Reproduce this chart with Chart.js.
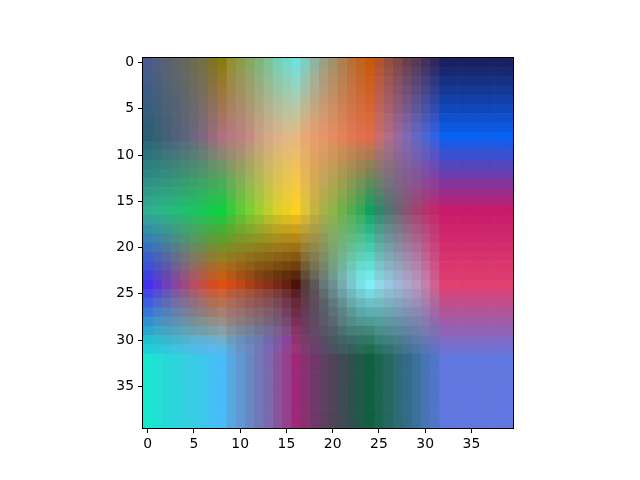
<!DOCTYPE html>
<html>
<head>
<meta charset="utf-8">
<script src="https://cdn.jsdelivr.net/npm/chart.js@4.4.1/dist/chart.umd.min.js"></script>
<style>
  html, body { margin: 0; padding: 0; background: #fff; }
  canvas { display: block; }
</style>
</head>
<body>
<canvas id="imageChart" width="640" height="480"></canvas>
<script>
// row labels of the image (top to bottom) and the ticks that are shown
const rowLabels = ['0','1','2','3','4','5','6','7','8','9','10','11','12','13','14','15','16','17','18','19',
                   '20','21','22','23','24','25','26','27','28','29','30','31','32','33','34','35','36','37','38','39'];
const xTicks = [0, 5, 10, 15, 20, 25, 30, 35];
const yTicks = [0, 5, 10, 15, 20, 25, 30, 35];

// pixel colours, one string per image row, "r,g,b" per column (40 columns)
const bottomBand = "24,232,208 32,224,212 40,216,216 44,212,220 52,208,224 56,204,228 60,200,236 68,192,244 72,188,248 88,168,224 96,152,212 104,136,196 112,120,184 124,104,172 136,84,156 148,64,140 160,40,120 136,48,112 112,56,104 96,64,96 80,68,88 64,74,84 48,80,80 32,88,74 16,96,64 26,100,80 36,104,96 44,108,116 52,108,136 60,112,156 72,116,180 80,118,200 96,120,224 96,120,224 96,120,224 96,120,224 96,120,224 96,120,224 96,120,224 96,120,224";
const pixelRows = [
  "74,90,140 82,94,128 88,98,116 94,102,104 100,105,92 108,108,80 116,112,66 128,116,40 140,124,16 146,144,48 142,156,74 136,168,98 130,180,122 124,194,148 118,208,180 114,216,200 112,224,220 128,204,192 144,180,160 154,160,128 164,144,104 174,128,80 184,112,56 192,100,32 200,90,8 176,84,48 152,78,64 128,72,72 106,64,80 86,58,88 66,50,92 46,42,94 26,32,96 26,32,96 26,32,96 26,32,96 26,32,96 26,32,96 26,32,96 26,32,96",
  "70,91,137 78,94,126 86,98,116 92,101,106 99,104,96 108,107,86 118,111,74 131,115,51 145,123,30 151,141,58 148,153,81 144,165,102 139,177,123 135,191,147 131,204,175 128,212,192 127,219,209 141,200,183 155,177,154 164,159,125 172,144,103 181,128,81 189,113,60 196,102,38 203,92,17 179,87,56 155,82,73 131,76,83 109,69,93 88,64,102 67,57,107 47,49,111 24,40,114 24,40,114 24,40,114 24,40,114 24,40,114 24,40,114 24,40,114 24,40,114",
  "66,92,134 75,95,125 83,98,117 91,101,109 98,104,100 108,107,92 119,110,81 134,114,62 149,121,44 156,138,68 154,149,88 151,161,106 149,174,125 146,188,145 144,200,169 142,208,184 141,214,197 154,195,173 166,174,147 174,157,123 180,143,102 188,129,82 194,114,63 200,103,44 206,95,25 182,90,64 158,86,82 134,80,94 112,74,105 90,70,115 69,63,122 48,56,128 22,48,132 22,48,132 22,48,132 22,48,132 22,48,132 22,48,132 22,48,132 22,48,132",
  "62,92,131 71,95,124 81,97,118 89,100,111 97,103,104 108,106,97 121,109,89 137,113,73 154,120,58 160,135,78 159,146,94 159,158,109 158,171,126 157,184,144 156,196,164 155,204,176 156,209,186 167,191,164 177,171,141 183,156,120 188,143,101 194,129,83 199,115,67 204,105,50 209,97,34 185,93,72 161,89,91 137,84,105 114,79,118 91,75,129 70,70,137 48,63,144 20,56,150 20,56,150 20,56,150 20,56,150 20,56,150 20,56,150 20,56,150 20,56,150",
  "58,93,128 68,95,122 78,97,118 87,99,113 96,103,108 108,105,103 122,108,96 140,112,84 158,118,72 165,132,88 165,142,101 166,154,113 167,168,127 168,181,142 169,192,158 169,200,168 170,204,174 180,186,154 188,168,134 193,154,117 196,142,100 201,129,84 204,116,70 208,106,56 212,99,42 188,96,80 164,93,100 140,88,116 117,84,130 93,81,142 71,76,152 49,70,161 18,64,168 18,64,168 18,64,168 18,64,168 18,64,168 18,64,168 18,64,168 18,64,168",
  "54,94,125 64,95,120 76,97,118 85,98,115 95,102,112 108,104,109 124,107,104 143,111,95 163,117,86 170,129,98 171,139,108 174,151,117 176,165,128 179,178,141 182,188,153 183,196,160 185,199,163 193,182,145 199,165,128 203,153,114 204,142,99 208,129,85 209,117,74 212,108,62 215,101,51 191,99,88 167,97,109 143,92,127 120,89,143 95,87,156 72,83,167 50,77,178 16,72,186 16,72,186 16,72,186 16,72,186 16,72,186 16,72,186 16,72,186 16,72,186",
  "50,95,122 61,96,119 73,97,119 84,98,118 94,101,116 108,104,115 125,106,111 146,110,106 167,115,100 175,126,108 177,135,115 181,147,121 186,162,130 190,175,139 195,184,147 197,192,152 199,194,151 206,177,135 210,162,121 213,151,112 212,141,98 215,130,86 214,118,77 216,109,68 218,104,59 194,102,96 170,101,118 146,96,138 123,94,155 97,93,169 74,89,182 51,84,195 14,80,204 14,80,204 14,80,204 14,80,204 14,80,204 14,80,204 14,80,204 14,80,204",
  "46,95,119 57,96,117 71,96,120 82,97,120 93,101,120 108,103,120 127,105,119 149,109,117 172,114,114 179,123,118 182,132,121 189,144,124 195,159,131 201,171,138 207,180,142 210,188,144 214,189,140 219,173,126 221,159,115 222,150,109 220,141,97 221,130,87 219,119,81 220,111,74 221,106,68 197,105,104 173,104,127 149,100,149 125,99,168 98,98,183 75,96,197 51,91,211 12,88,222 12,88,222 12,88,222 12,88,222 12,88,222 12,88,222 12,88,222 12,88,222",
  "42,96,116 54,96,116 68,96,120 80,96,122 92,100,124 108,102,126 128,104,126 152,108,128 176,112,128 184,120,128 188,128,128 196,140,128 204,156,132 212,168,136 220,176,136 224,184,136 228,184,128 232,168,116 232,156,108 232,148,106 228,140,96 228,130,88 224,120,84 224,112,80 224,108,76 200,108,112 176,108,136 152,104,160 128,104,180 100,104,196 76,102,212 52,98,228 10,96,240 10,96,240 10,96,240 10,96,240 10,96,240 10,96,240 10,96,240 10,96,240",
  "43,106,120 53,107,119 65,107,121 75,108,122 85,112,122 98,114,122 115,116,121 136,120,121 156,124,120 168,131,120 176,138,119 187,149,119 198,163,122 209,173,125 220,180,124 226,187,124 231,187,116 231,172,109 228,159,103 224,152,102 217,145,93 214,136,86 207,127,84 203,119,81 198,115,79 181,112,111 164,109,133 147,104,154 129,102,172 108,100,185 89,96,199 70,91,213 34,87,223 34,87,223 34,87,223 34,87,223 34,87,223 34,87,223 34,87,223 34,87,223",
  "44,116,123 52,117,122 61,118,123 69,119,122 77,123,120 88,126,119 102,128,116 119,132,115 136,136,112 152,141,111 164,147,110 178,157,109 192,169,111 206,178,113 220,184,112 228,190,111 235,190,104 230,175,101 223,162,97 216,155,98 206,150,90 199,142,84 189,133,83 181,126,82 172,121,81 162,115,110 152,110,130 141,103,148 130,99,163 115,95,175 102,90,186 87,84,198 58,79,206 58,79,206 58,79,206 58,79,206 58,79,206 58,79,206 58,79,206 58,79,206",
  "44,126,127 50,128,124 58,129,124 64,131,121 70,135,118 78,137,115 89,140,110 103,144,108 116,148,104 136,152,103 152,157,101 169,166,100 186,176,101 203,183,102 220,188,100 229,193,99 238,193,92 229,179,94 219,165,92 208,159,93 195,155,87 185,147,82 172,140,83 160,133,83 146,128,84 143,119,109 140,111,127 136,103,142 131,97,155 123,91,164 115,83,173 105,76,182 81,70,190 81,70,190 81,70,190 81,70,190 81,70,190 81,70,190 81,70,190 81,70,190",
  "45,136,130 49,138,127 54,140,125 58,142,121 62,146,116 68,149,111 76,152,105 86,156,101 96,160,96 120,162,94 140,166,92 160,174,90 180,182,90 200,188,90 220,192,88 231,196,86 242,196,80 228,182,86 214,168,86 200,162,89 184,160,84 170,153,80 154,146,82 138,140,84 120,134,86 124,122,108 128,112,124 130,102,136 132,94,146 130,86,153 128,77,160 122,69,167 105,61,173 105,61,173 105,61,173 105,61,173 105,61,173 105,61,173 105,61,173 105,61,173",
  "46,146,134 48,149,130 51,151,126 53,154,121 55,158,114 58,161,107 63,164,100 70,168,94 76,172,88 104,173,86 128,176,83 151,183,81 174,189,80 197,193,79 220,196,76 233,199,74 245,199,68 227,186,79 210,171,81 192,166,85 173,165,81 156,159,78 137,153,82 117,147,85 94,141,89 105,126,107 116,113,121 125,102,130 133,92,138 138,82,142 141,71,147 140,62,152 129,52,156 129,52,156 129,52,156 129,52,156 129,52,156 129,52,156 129,52,156 129,52,156",
  "47,156,137 47,159,133 47,162,128 47,165,121 47,169,112 48,173,104 50,176,95 53,180,88 56,184,80 88,183,77 116,185,74 142,191,71 168,195,69 194,198,67 220,200,64 235,202,61 248,202,56 226,189,71 205,174,75 184,169,81 162,170,78 141,165,76 119,159,81 95,154,86 68,147,91 86,129,106 104,114,118 119,101,124 134,89,129 145,77,132 154,65,134 157,55,137 153,44,139 153,44,139 153,44,139 153,44,139 153,44,139 153,44,139 153,44,139 153,44,139",
  "47,166,141 45,170,135 44,173,129 42,177,120 40,181,110 38,184,100 37,188,89 37,192,81 36,196,72 72,194,69 104,195,65 133,200,62 162,202,59 191,203,56 220,204,52 236,205,49 252,205,44 225,193,64 201,177,70 176,173,76 151,175,75 127,170,74 102,166,81 74,161,87 42,154,94 67,133,105 92,115,115 114,101,118 135,87,121 153,73,121 167,58,121 175,47,121 176,35,123 176,35,123 176,35,123 176,35,123 176,35,123 176,35,123 176,35,123 176,35,123",
  "48,176,144 44,180,138 40,184,130 36,188,120 32,192,108 28,196,96 24,200,84 20,204,74 16,208,64 56,204,60 92,204,56 124,208,52 156,208,48 188,208,44 220,208,40 238,208,36 255,208,32 224,196,56 196,180,64 168,176,72 140,180,72 112,176,72 84,172,80 52,168,88 16,160,96 48,136,104 80,116,112 108,100,112 136,84,112 160,68,110 180,52,108 192,40,106 200,26,106 200,26,106 200,26,106 200,26,106 200,26,106 200,26,106 200,26,106 200,26,106",
  "50,160,156 50,164,147 49,168,137 49,173,125 48,177,111 48,181,96 46,185,82 45,188,69 42,192,58 74,188,55 103,187,51 128,189,48 153,188,44 178,187,40 204,186,36 218,185,33 231,184,29 206,179,56 183,169,68 160,169,78 136,177,82 113,177,86 89,177,97 61,176,107 30,171,116 60,146,120 89,127,126 115,111,125 141,95,124 163,79,120 182,62,116 194,47,111 203,31,107 203,31,107 203,31,107 203,31,107 203,31,107 203,31,107 203,31,107 203,31,107",
  "52,144,168 55,148,157 58,152,144 61,157,129 64,162,113 67,166,96 68,169,79 69,172,64 68,176,52 92,171,49 113,169,46 131,170,43 149,168,39 168,166,36 187,164,33 197,162,29 207,160,26 188,162,56 170,158,71 152,162,84 132,173,92 113,177,100 93,181,114 70,184,126 44,181,135 72,156,136 98,137,140 121,121,138 145,105,135 166,89,131 184,71,124 196,54,116 206,36,108 206,36,108 206,36,108 206,36,108 206,36,108 206,36,108 206,36,108 206,36,108",
  "54,128,180 61,132,166 67,136,150 74,142,134 80,147,116 87,151,96 90,154,77 94,156,60 94,160,46 110,155,44 124,152,41 135,151,39 146,148,35 158,145,32 171,142,29 177,139,26 183,136,23 170,145,56 157,147,75 144,155,90 128,170,102 114,178,114 98,186,131 79,192,145 58,192,155 84,166,152 107,148,154 128,132,151 150,116,147 169,100,141 186,81,132 198,61,120 209,40,108 209,40,108 209,40,108 209,40,108 209,40,108 209,40,108 209,40,108 209,40,108",
  "56,112,192 66,116,175 76,120,157 86,126,138 96,132,118 106,136,96 112,138,74 118,140,55 120,144,40 128,138,38 134,134,36 138,132,34 142,128,30 148,124,28 155,120,25 157,116,22 160,112,20 152,128,56 144,136,78 136,148,96 124,166,112 114,178,128 102,190,148 88,200,164 72,202,174 96,176,168 116,158,168 134,142,164 154,126,158 172,110,151 188,90,140 200,68,125 212,45,109 212,45,109 212,45,109 212,45,109 212,45,109 212,45,109 212,45,109 212,45,109",
  "58,96,204 72,100,184 85,104,164 99,111,143 112,117,121 126,121,96 134,123,72 143,124,50 146,128,34 146,122,33 145,117,31 142,113,30 139,108,26 138,103,24 139,98,21 137,93,19 136,88,17 134,111,56 131,125,82 128,141,102 120,163,122 115,179,142 107,195,165 97,208,183 86,213,194 108,186,184 125,169,182 141,153,177 159,137,170 175,121,161 190,100,148 202,75,130 215,50,110 215,50,110 215,50,110 215,50,110 215,50,110 215,50,110 215,50,110 215,50,110",
  "60,80,216 77,84,194 94,88,171 111,95,147 128,102,123 145,106,96 156,107,69 167,108,45 172,112,28 164,105,27 155,99,26 145,94,25 135,88,21 128,82,20 123,76,18 117,70,15 112,64,14 116,94,56 118,114,85 120,134,108 116,159,132 115,179,156 111,199,182 106,216,202 100,223,213 120,196,200 134,179,196 147,163,190 163,147,181 178,131,172 192,109,156 204,82,135 218,55,110 218,55,110 218,55,110 218,55,110 218,55,110 218,55,110 218,55,110 218,55,110",
  "62,64,228 83,68,203 103,72,177 124,80,152 144,87,126 165,91,96 178,92,67 192,92,41 198,96,22 182,89,22 166,82,21 149,75,21 132,68,17 118,61,16 106,54,14 96,47,12 88,40,11 98,77,56 105,103,89 112,127,114 112,156,142 116,180,170 116,204,199 115,224,221 114,234,233 132,206,216 143,190,210 154,174,203 168,158,193 181,142,182 194,119,164 206,89,139 221,59,111 221,59,111 221,59,111 221,59,111 221,59,111 221,59,111 221,59,111 221,59,111",
  "64,48,240 88,56,216 112,64,184 136,68,160 160,72,128 184,76,96 200,76,64 212,76,36 224,80,16 208,76,20 192,72,24 168,64,26 152,56,26 136,48,24 120,40,20 100,32,16 74,20,8 88,60,56 92,88,88 104,120,120 108,144,144 116,172,176 120,200,206 124,224,232 128,240,248 144,216,232 152,200,224 160,184,216 172,168,204 184,152,192 196,128,172 208,96,144 224,64,112 224,64,112 224,64,112 224,64,112 224,64,112 224,64,112 224,64,112 224,64,112",
  "64,72,232 80,80,208 100,88,184 124,92,160 144,92,136 164,96,112 184,96,88 192,96,64 200,100,60 184,92,60 172,90,64 160,84,64 148,76,64 136,68,64 124,60,60 108,48,52 92,32,40 92,60,68 92,80,88 96,108,112 104,136,136 108,160,164 112,184,188 116,204,212 116,220,224 129,202,213 138,188,208 146,175,204 157,161,196 169,147,188 181,127,173 192,99,151 208,71,126 208,71,126 208,71,126 208,71,126 208,71,126 208,71,126 208,71,126 208,71,126",
  "60,96,224 76,104,204 92,108,184 112,112,168 128,112,148 144,112,128 160,112,108 176,112,88 184,112,80 172,106,88 160,100,88 152,92,88 140,86,88 132,80,88 120,72,84 112,56,76 104,40,56 96,60,76 92,76,92 92,96,104 96,120,128 100,144,148 104,168,168 104,184,188 104,196,200 115,187,194 123,176,192 131,165,191 142,153,187 153,142,183 165,125,174 176,102,158 192,78,140 192,78,140 192,78,140 192,78,140 192,78,140 192,78,140 192,78,140 192,78,140",
  "52,120,216 68,128,200 84,128,184 100,128,172 116,128,156 128,128,140 144,124,124 156,124,112 168,128,112 160,116,112 152,112,112 144,104,104 136,100,104 128,92,104 120,84,104 116,64,96 112,44,72 100,60,84 92,76,96 92,92,104 92,112,120 92,132,136 92,152,152 92,168,168 92,176,176 100,173,175 109,164,176 117,156,179 127,146,179 138,137,179 150,124,175 160,104,165 176,85,154 176,85,154 176,85,154 176,85,154 176,85,154 176,85,154 176,85,154 176,85,154",
  "48,144,208 64,148,200 80,144,188 96,144,180 108,144,168 120,144,152 132,144,144 144,144,136 152,144,136 144,132,128 136,124,128 132,116,128 124,108,124 120,100,124 116,88,120 120,72,112 124,48,88 108,60,92 96,74,96 92,90,104 88,104,112 88,124,128 84,140,136 80,152,144 76,156,152 85,158,156 94,152,160 102,146,166 112,138,170 122,132,174 134,122,176 144,107,172 160,92,168 160,92,168 160,92,168 160,92,168 160,92,168 160,92,168 160,92,168 160,92,168",
  "40,168,204 56,168,200 68,164,196 80,164,192 92,164,184 104,160,176 112,160,172 124,160,168 136,160,168 128,144,160 120,136,152 116,128,156 116,116,152 116,108,148 122,96,144 128,76,132 136,52,104 112,60,100 100,72,104 88,84,104 80,96,104 76,112,112 72,124,120 68,132,120 64,136,120 70,144,137 80,140,144 88,137,154 97,131,162 107,127,170 119,121,177 128,110,179 144,99,182 144,99,182 144,99,182 144,99,182 144,99,182 144,99,182 144,99,182 144,99,182",
  "32,192,208 44,188,208 56,184,208 68,180,208 80,180,208 88,180,208 96,176,208 104,176,208 112,176,200 108,156,188 104,144,184 104,132,180 108,122,176 112,104,172 124,88,160 136,68,156 144,52,112 120,60,104 104,68,104 88,76,100 76,88,96 68,100,100 60,108,104 52,116,104 48,120,96 56,129,118 65,128,128 73,127,141 82,123,153 91,122,165 103,119,178 112,113,186 128,106,196 128,106,196 128,106,196 128,106,196 128,106,196 128,106,196 128,106,196 128,106,196",
  "28,208,212 40,204,216 48,200,220 60,196,224 68,192,228 76,188,232 84,184,236 92,184,240 88,184,232 96,164,216 104,148,200 112,136,192 116,120,184 124,104,176 132,88,168 144,68,148 156,52,120 124,60,112 108,64,108 92,72,104 76,80,100 64,92,96 52,96,92 40,108,88 32,108,80 41,115,99 51,116,112 59,118,129 67,116,145 76,117,161 88,118,179 96,115,193 112,113,210 112,113,210 112,113,210 112,113,210 112,113,210 112,113,210 112,113,210 112,113,210",
  bottomBand, bottomBand, bottomBand, bottomBand, bottomBand, bottomBand, bottomBand, bottomBand
];

function parseRow(row) {
    return row.trim().split(/\s+/).map(t => 'rgb(' + t + ')');
}

// draws the black box around the image like the axes spines
const frame = {
    id: 'frame',
    afterDatasetsDraw(chart) {
        const ctx = chart.ctx;
        const a = chart.chartArea;
        ctx.save();
        ctx.strokeStyle = '#000';
        ctx.lineWidth = 1;
        ctx.strokeRect(Math.round(a.left) - 0.5, Math.round(a.top) - 0.5,
                       Math.round(a.right - a.left) + 1, Math.round(a.bottom - a.top) + 1);
        ctx.restore();
    }
};

var cells = pixelRows.map(parseRow);
var nCols = cells[0].length;
var datasets = [];
for (let j = 0; j < nCols; j++) {
    datasets.push({
        data: cells.map(() => [j - 0.5, j + 0.5]),
        backgroundColor: cells.map(r => r[j]),
        borderWidth: 0,
        grouped: false,
        barPercentage: 1,
        categoryPercentage: 1
    });
}

const tickFont = { family: 'DejaVu Sans', size: 13.9 };

var ctx = document.getElementById('imageChart').getContext('2d');
var imageChart = new Chart(ctx, {
    type: 'bar',
    data: {
        labels: rowLabels,
        datasets: datasets
    },
    options: {
        indexAxis: 'y',
        responsive: false,
        animation: false,
        devicePixelRatio: 1,
        layout: { padding: { left: 0, top: 58, right: 127, bottom: 0 } },
        plugins: {
            legend: { display: false },
            tooltip: { enabled: false }
        },
        scales: {
            x: {
                type: 'linear',
                min: -0.5,
                max: 39.5,
                afterBuildTicks: function(scale) {
                    scale.ticks = xTicks.map(v => ({ value: v }));
                },
                afterFit: function(scale) { scale.height = 52; },
                border: { display: false },
                grid: { drawOnChartArea: false, drawTicks: true, tickLength: 5, color: '#000', lineWidth: 1 },
                ticks: { color: '#000', font: tickFont, padding: 3, maxRotation: 0 }
            },
            y: {
                type: 'category',
                offset: true,
                afterBuildTicks: function(scale) {
                    scale.ticks = scale.ticks.filter(t => yTicks.includes(t.value));
                },
                afterFit: function(scale) { scale.width = 143; },
                border: { display: false },
                grid: { offset: false, drawOnChartArea: false, drawTicks: true, tickLength: 5, color: '#000', lineWidth: 1 },
                ticks: { color: '#000', font: tickFont, padding: 4, autoSkip: false }
            }
        }
    },
    plugins: [frame]
});
</script>
</body>
</html>
